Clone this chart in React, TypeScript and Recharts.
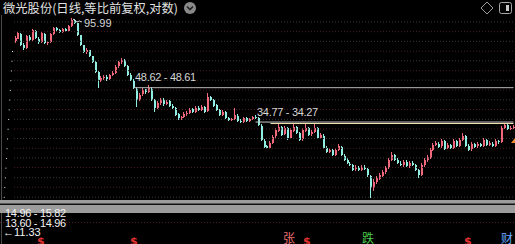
import { ComposedChart, Bar, XAxis, YAxis, ReferenceLine } from "recharts"

// daily candles (prices, log scale)
const opens = [
  76.5, 78.5, 82.0, 73.5, 71.8, 80.0, 77.6, 84.5, 78.5, 76.0,
  82.0, 75.0, 76.2, 82.3, 86.8, 85.0, 83.5, 86.0, 84.8, 88.5,
  93.8, 91.0, 81.0, 73.5, 68.6, 70.0, 66.0, 62.3, 56.5, 52.0,
  53.2, 54.0, 52.8, 55.0, 56.0, 59.8, 62.3, 63.5, 60.0, 55.2,
  52.0, 48.0, 43.0, 45.5, 47.8, 46.5, 48.2, 43.0, 40.0, 41.8,
  43.2, 41.3, 42.5, 40.8, 39.8, 37.5, 36.0, 36.4, 37.8, 38.0,
  39.3, 38.2, 40.0, 39.0, 40.4, 38.6, 44.2, 43.0, 40.9, 39.2,
  37.2, 38.3, 36.0, 35.4, 35.7, 37.0, 35.2, 34.9, 36.0, 35.0,
  35.7, 36.6, 36.0, 33.6, 29.0, 27.4, 27.0, 28.4, 30.2, 32.0,
  33.0, 30.8, 32.8, 29.9, 32.0, 33.0, 31.2, 29.4, 32.0, 32.7,
  30.8, 31.5, 32.8, 29.8, 30.4, 27.0, 25.9, 26.4, 25.3, 26.4,
  27.3, 25.0, 24.1, 23.2, 22.8, 21.9, 22.3, 21.7, 22.5, 21.9,
  20.5, 18.3, 19.3, 20.0, 20.6, 21.3, 22.1, 24.0, 25.1, 24.1,
  23.2, 22.8, 23.5, 22.6, 23.4, 22.8, 21.7, 20.8, 22.8, 23.9,
  24.6, 26.4, 27.7, 28.2, 27.4, 28.8, 26.9, 27.7, 27.1, 28.8,
  27.6, 29.1, 30.2, 27.6, 26.6, 28.0, 27.4, 28.0, 27.6, 29.1,
  27.9, 28.2, 27.6, 28.8, 28.7, 32.8, 33.7, 32.4, 32.8,
]
const highs = [
  80.5, 84.0, 83.0, 75.0, 81.5, 81.0, 86.5, 85.5, 79.5, 83.8,
  82.8, 77.0, 83.0, 88.0, 87.8, 86.0, 87.0, 86.8, 89.5, 96.0,
  95.0, 91.5, 81.5, 74.0, 71.5, 70.5, 66.5, 62.8, 57.0, 54.5,
  55.0, 54.8, 55.8, 57.0, 60.5, 63.2, 65.0, 64.2, 60.5, 56.0,
  52.8, 48.8, 46.2, 48.5, 48.2, 49.9, 48.8, 43.5, 42.8, 44.0,
  43.8, 43.0, 43.0, 41.5, 40.2, 38.0, 37.0, 38.2, 38.6, 39.8,
  39.8, 40.5, 40.5, 41.0, 40.8, 46.2, 45.0, 43.5, 41.3, 39.6,
  39.0, 38.7, 36.6, 36.3, 39.9, 37.5, 35.8, 36.7, 36.4, 36.3,
  37.0, 37.2, 36.4, 34.0, 29.5, 27.9, 28.8, 30.5, 32.8, 34.0,
  33.5, 33.6, 33.2, 32.8, 34.0, 33.5, 31.6, 32.8, 34.0, 33.2,
  32.2, 34.0, 33.2, 31.2, 30.8, 27.4, 26.9, 26.8, 26.9, 28.0,
  27.6, 25.4, 24.5, 23.6, 23.1, 22.8, 22.7, 22.9, 22.8, 22.2,
  20.8, 19.9, 20.6, 21.1, 21.8, 22.6, 24.4, 26.0, 25.5, 24.5,
  23.7, 24.0, 23.9, 23.7, 23.8, 23.1, 22.0, 23.3, 24.4, 25.1,
  26.9, 28.3, 28.8, 28.6, 29.4, 29.2, 28.3, 28.1, 29.4, 29.2,
  29.7, 31.3, 30.6, 28.0, 28.6, 28.4, 28.6, 28.4, 29.7, 29.5,
  28.8, 28.6, 29.4, 29.2, 33.4, 34.5, 34.1, 33.5, 33.8,
]
const lows = [
  75.5, 77.8, 72.8, 70.0, 71.0, 76.5, 77.0, 78.0, 74.8, 75.5,
  74.2, 73.8, 75.5, 81.5, 84.0, 82.5, 83.0, 83.5, 84.0, 88.0,
  90.5, 80.5, 72.8, 68.0, 67.8, 65.5, 61.8, 56.0, 48.5, 51.5,
  52.5, 52.0, 52.3, 54.5, 55.5, 59.0, 61.5, 59.5, 54.5, 51.8,
  48.0, 40.3, 42.5, 44.8, 45.8, 46.0, 42.5, 38.4, 39.5, 41.2,
  40.8, 40.9, 40.2, 39.4, 36.8, 35.6, 35.5, 36.0, 37.0, 37.6,
  37.9, 37.9, 38.6, 38.7, 38.0, 38.3, 42.6, 40.2, 38.6, 36.8,
  36.9, 35.8, 35.0, 35.1, 35.3, 34.7, 34.3, 34.5, 34.7, 34.8,
  35.3, 35.7, 33.4, 28.9, 27.0, 26.6, 26.8, 28.1, 29.9, 31.6,
  30.2, 30.5, 29.3, 29.6, 31.7, 30.9, 28.9, 29.0, 31.7, 30.3,
  30.4, 31.2, 29.4, 29.5, 26.7, 25.7, 25.6, 24.9, 25.0, 26.1,
  24.9, 23.7, 23.0, 22.6, 21.5, 21.6, 21.5, 21.5, 21.7, 20.4,
  16.6, 17.8, 19.0, 19.7, 20.3, 21.0, 21.9, 23.7, 23.7, 23.0,
  22.6, 22.5, 22.4, 22.3, 22.6, 21.5, 20.2, 20.5, 22.5, 23.6,
  24.3, 26.1, 27.4, 26.9, 27.1, 26.5, 26.6, 26.7, 26.8, 27.2,
  27.3, 28.8, 27.2, 26.2, 26.3, 27.0, 27.1, 27.2, 27.3, 27.5,
  27.6, 27.2, 27.3, 28.0, 28.4, 32.5, 32.2, 32.1, 32.5,
]
const closes = [
  78.9, 82.8, 73.7, 71.5, 80.4, 77.4, 85.3, 78.9, 75.9, 82.8,
  75.1, 75.9, 82.0, 87.0, 85.3, 83.6, 86.1, 84.5, 88.7, 94.1,
  91.4, 81.2, 73.7, 68.8, 70.2, 66.2, 62.5, 56.7, 52.4, 53.4,
  53.9, 52.9, 55.0, 56.1, 59.5, 62.5, 63.7, 60.1, 55.0, 52.4,
  48.5, 43.1, 45.3, 47.5, 46.6, 48.5, 43.1, 39.9, 41.9, 43.1,
  41.5, 42.3, 40.7, 39.9, 37.3, 36.2, 36.5, 37.6, 38.0, 39.1,
  38.4, 39.9, 39.1, 40.3, 38.4, 44.4, 43.1, 40.7, 39.1, 37.3,
  38.4, 36.2, 35.5, 35.8, 37.3, 35.1, 34.8, 36.2, 35.1, 35.8,
  36.5, 36.2, 33.8, 29.2, 27.3, 27.0, 28.3, 30.0, 32.2, 33.2,
  30.6, 32.9, 29.7, 32.2, 33.2, 31.3, 29.2, 32.2, 32.9, 30.6,
  31.6, 32.9, 29.7, 30.6, 27.0, 26.0, 26.5, 25.2, 26.5, 27.5,
  25.2, 24.0, 23.3, 22.9, 21.8, 22.4, 21.8, 22.4, 22.0, 20.7,
  18.2, 19.4, 20.2, 20.7, 21.4, 22.2, 24.0, 25.2, 24.0, 23.3,
  22.9, 23.6, 22.7, 23.3, 22.9, 21.8, 20.7, 22.9, 24.0, 24.7,
  26.5, 27.8, 28.3, 27.3, 28.9, 26.8, 27.8, 27.0, 28.9, 27.5,
  29.2, 30.3, 27.5, 26.5, 28.1, 27.3, 28.1, 27.5, 29.2, 27.8,
  28.3, 27.5, 28.9, 28.6, 32.9, 33.8, 32.5, 32.9, 33.2,
]

// dotted grid levels
const gridPrices = [
  92.3, 84.0, 76.4, 69.4, 63.2, 57.4, 52.3, 47.5, 43.2, 39.3,
  35.7, 32.5, 29.6, 26.9, 24.5, 22.3, 20.2, 18.4, 16.7,
]

// drawn price levels: [price, first candle, colour]
const levels: [number, number, string][] = [
  [48.62, 40, "#b8b8b8"],
  [34.77, 81, "#c8c8c8"],
  [34.27, 86, "#f4e6b0"],
]

const UP = "#f0687a"
const DOWN = "#90eee2"
const TEXT = "#d6d6d6"

const data = closes.map((c, i) => ({
  i,
  open: opens[i],
  high: highs[i],
  low: lows[i],
  close: c,
  range: [lows[i], highs[i]],
}))
const last = data.length - 1

const Candle = (props: any) => {
  const { x, y, width, height, payload } = props
  if (x == null || !payload) return null
  const top = Math.min(y, y + height)
  const h = Math.abs(height)
  const lh = Math.log(payload.high)
  const span = lh - Math.log(payload.low) || 1
  const at = (v: number) => top + ((lh - Math.log(v)) / span) * h
  const color = payload.close >= payload.open ? UP : DOWN
  const cx = Math.round(x + width / 2)
  const yo = at(payload.open)
  const yc = at(payload.close)
  return (
    <g shapeRendering="crispEdges">
      <rect x={cx - 1} y={top} width={1} height={Math.max(1, h)} fill={color} />
      <rect x={cx - 1} y={Math.min(yo, yc)} width={2} height={Math.max(1, Math.abs(yc - yo))} fill={color} />
    </g>
  )
}

const num = { fontFamily: "'Liberation Sans', Arial, sans-serif", fontSize: 11, fill: TEXT }

export default function App() {
  return (
    <div style={{ position: "relative", width: 515, height: 244, background: "#000", overflow: "hidden" }}>
      <style>{"body{margin:0;background:#000}"}</style>
      <ComposedChart
        width={515}
        height={244}
        data={data}
        margin={{ top: 15, right: 0, bottom: 44, left: 14 }}
        barCategoryGap={0}
      >
        <XAxis dataKey="i" type="category" hide />
        <YAxis type="number" scale="log" domain={[16.25, 98.8]} allowDataOverflow hide />
        {gridPrices.map((p, k) => (
          <ReferenceLine
            key={p}
            y={p}
            stroke={k % 2 ? "#4a1d22" : "#383838"}
            strokeDasharray="1 2"
          />
        ))}
        <Bar dataKey="range" shape={<Candle />} isAnimationActive={false} />
        {levels.map(([p, from, c]) => (
          <ReferenceLine
            key={p}
            segment={[{ x: from, y: p }, { x: last, y: p }]}
            stroke={c}
            strokeWidth={1}
          />
        ))}
      </ComposedChart>

      <svg
        width={515}
        height={244}
        style={{ position: "absolute", left: 0, top: 0, pointerEvents: "none" }}
      >
        {/* title */}
        <text x={3} y={13} fontFamily="'Noto Sans CJK SC', sans-serif" fontSize={12.3} fill="#e2e2e2">
          微光股份(日线,等比前复权,对数)
        </text>
        <circle cx={190} cy={8} r={6} fill="#8a8a8a" />
        <path d="M187,6.5 L190,9.5 L193,6.5" stroke="#222" strokeWidth={1.6} fill="none" />
        <path d="M487,2 L493,8 L487,14 L481,8 Z" stroke="#9a9a9a" fill="none" />
        <rect x={499.5} y={2.5} width={12} height={11} rx={2} stroke="#a8a8a8" fill="none" />
        <rect x={506} y={5} width={3} height={6} fill="#c8c8c8" />

        {/* left edge */}
        <line x1={1.5} y1={15} x2={1.5} y2={244} stroke="#4a4a4a" />
        {gridPrices.slice(3).map((_, k) => (
          <rect key={k} x={12 - k * 0.55} y={51 + k * 9.72} width={1} height={1} fill="#e8e8e8" />
        ))}

        {/* price labels */}
        <path d="M73,19 L77,22 Q79,20 82,22" stroke={TEXT} fill="none" />
        <text x={84} y={27} {...num}>95.99</text>
        <text x={135} y={81} {...num} letterSpacing={-0.3}>48.62 - 48.61</text>
        <text x={257} y={116} {...num} letterSpacing={-0.3}>34.77 - 34.27</text>
        <path d="M511,143 L515,138 L515,143 Z" fill="#f08a30" />

        {/* lower band */}
        <rect x={0} y={200} width={515} height={13} fill="#9c9c9c" />
        <rect x={0} y={203.5} width={515} height={1.5} fill="#111" />
        <line x1={0} y1={222.5} x2={515} y2={222.5} stroke="#4a1d22" strokeDasharray="1 2" />
        <text x={5} y={217} {...num} fill="#f2f2f2" letterSpacing={-0.3}>14.96 - 15.82</text>
        <text x={5} y={227} {...num} fill="#f2f2f2" letterSpacing={-0.3}>13.60 - 14.96</text>
        <text x={3} y={236} {...num} fill="#f2f2f2">←11.33</text>

        {/* event markers */}
        {[40, 133, 306, 467].map((x) => (
          <text key={x} x={x - 3} y={245} fontFamily="'DejaVu Sans', sans-serif" fontSize={11} fontWeight="bold" fill="#e03030">$</text>
        ))}
        <text x={283} y={243} fontFamily="'Noto Sans CJK SC', sans-serif" fontSize={12} fill="#f07070">张</text>
        <text x={362} y={243} fontFamily="'Noto Sans CJK SC', sans-serif" fontSize={12} fill="#4ccc4c">跌</text>
        <text x={501} y={243} fontFamily="'Noto Sans CJK SC', sans-serif" fontSize={12} fill="#6aa8ff">财</text>
      </svg>
    </div>
  )
}
